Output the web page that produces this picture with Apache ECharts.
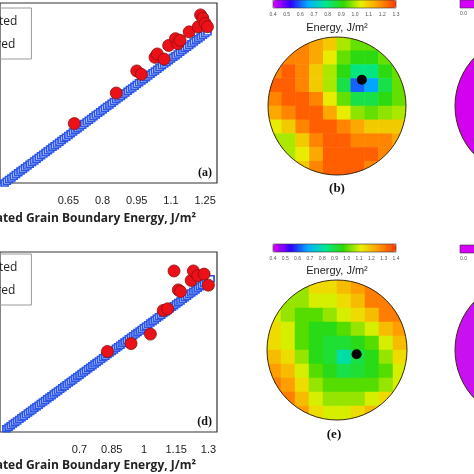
<!DOCTYPE html>
<html><head><meta charset="utf-8">
<script src="https://cdn.jsdelivr.net/npm/echarts@6/dist/echarts.min.js"></script>
<style>html,body{margin:0;background:#fff}#c{width:474px;height:474px}</style></head>
<body><div id="c"></div>
<script>
// ---- data ----
const simA = [[0.35,0.35],[0.36,0.36],[0.37,0.37],[0.38,0.38],[0.39,0.39],[0.40,0.40],[0.41,0.41],[0.42,0.42],[0.43,0.43],[0.44,0.44],[0.45,0.45],[0.46,0.46],[0.47,0.47],[0.48,0.48],[0.49,0.49],[0.50,0.50],[0.51,0.51],[0.52,0.52],[0.53,0.53],[0.54,0.54],[0.55,0.55],[0.56,0.56],[0.57,0.57],[0.58,0.58],[0.59,0.59],[0.60,0.60],[0.61,0.61],[0.62,0.62],[0.63,0.63],[0.64,0.64],[0.65,0.65],[0.66,0.66],[0.67,0.67],[0.68,0.68],[0.69,0.69],[0.70,0.70],[0.71,0.71],[0.72,0.72],[0.73,0.73],[0.74,0.74],[0.75,0.75],[0.76,0.76],[0.77,0.77],[0.78,0.78],[0.79,0.79],[0.80,0.80],[0.81,0.81],[0.82,0.82],[0.83,0.83],[0.84,0.84],[0.85,0.85],[0.86,0.86],[0.87,0.87],[0.88,0.88],[0.89,0.89],[0.90,0.90],[0.91,0.91],[0.92,0.92],[0.93,0.93],[0.94,0.94],[0.95,0.95],[0.96,0.96],[0.97,0.97],[0.98,0.98],[0.99,0.99],[1.00,1.00],[1.01,1.01],[1.02,1.02],[1.03,1.03],[1.04,1.04],[1.05,1.05],[1.06,1.06],[1.07,1.07],[1.08,1.08],[1.09,1.09],[1.10,1.10],[1.11,1.11],[1.12,1.12],[1.13,1.13],[1.14,1.14],[1.15,1.15],[1.16,1.16],[1.17,1.17],[1.18,1.18],[1.19,1.19],[1.20,1.20],[1.21,1.21],[1.22,1.22],[1.23,1.23],[1.24,1.24],[1.25,1.25],[1.26,1.26]];
const measA = [[0.676,0.72],[0.86,0.90],[0.95,1.03],[0.97,1.01],[1.03,1.11],[1.04,1.13],[1.07,1.10],[1.09,1.18],[1.12,1.22],[1.13,1.19],[1.14,1.21],[1.18,1.26],[1.22,1.29],[1.23,1.36],[1.24,1.34],[1.25,1.31],[1.26,1.29]];
const simD = [[0.36,0.36],[0.37,0.37],[0.38,0.38],[0.39,0.39],[0.40,0.40],[0.41,0.41],[0.42,0.42],[0.43,0.43],[0.44,0.44],[0.45,0.45],[0.46,0.46],[0.47,0.47],[0.48,0.48],[0.49,0.49],[0.50,0.50],[0.51,0.51],[0.52,0.52],[0.53,0.53],[0.54,0.54],[0.55,0.55],[0.56,0.56],[0.57,0.57],[0.58,0.58],[0.59,0.59],[0.60,0.60],[0.61,0.61],[0.62,0.62],[0.63,0.63],[0.64,0.64],[0.65,0.65],[0.66,0.66],[0.67,0.67],[0.68,0.68],[0.69,0.69],[0.70,0.70],[0.71,0.71],[0.72,0.72],[0.73,0.73],[0.74,0.74],[0.75,0.75],[0.76,0.76],[0.77,0.77],[0.78,0.78],[0.79,0.79],[0.80,0.80],[0.81,0.81],[0.82,0.82],[0.83,0.83],[0.84,0.84],[0.85,0.85],[0.86,0.86],[0.87,0.87],[0.88,0.88],[0.89,0.89],[0.90,0.90],[0.91,0.91],[0.92,0.92],[0.93,0.93],[0.94,0.94],[0.95,0.95],[0.96,0.96],[0.97,0.97],[0.98,0.98],[0.99,0.99],[1.00,1.00],[1.01,1.01],[1.02,1.02],[1.03,1.03],[1.04,1.04],[1.05,1.05],[1.06,1.06],[1.07,1.07],[1.08,1.08],[1.09,1.09],[1.10,1.10],[1.11,1.11],[1.12,1.12],[1.13,1.13],[1.14,1.14],[1.15,1.15],[1.16,1.16],[1.17,1.17],[1.18,1.18],[1.19,1.19],[1.20,1.20],[1.21,1.21],[1.22,1.22],[1.23,1.23],[1.24,1.24],[1.25,1.25],[1.26,1.26],[1.27,1.27],[1.28,1.28],[1.29,1.29],[1.30,1.30],[1.31,1.31]];
const measD = [[0.83,0.85],[0.94,0.90],[1.03,0.96],[1.09,1.11],[1.11,1.12],[1.14,1.36],[1.16,1.24],[1.17,1.23],[1.22,1.30],[1.23,1.36],[1.25,1.33],[1.28,1.34],[1.30,1.27]];
const _ = null;
const mapB = [
[_,_,1.2,1.15,1.1,1.0,0.95,0.95,_,_],
[_,1.2,1.2,1.15,1.05,0.95,0.9,0.9,0.95,_],
[1.2,1.25,1.2,1.1,1.0,0.9,0.8,0.8,0.9,0.95],
[1.25,1.25,1.2,1.1,1.0,0.85,0.6,0.65,0.85,0.95],
[1.2,1.25,1.25,1.2,1.05,0.95,0.85,0.85,0.9,0.95],
[1.15,1.2,1.25,1.25,1.15,1.05,0.98,0.95,0.98,1.0],
[1.05,1.1,1.2,1.25,1.25,1.2,1.15,1.1,1.1,1.1],
[1.0,1.0,1.1,1.2,1.25,1.25,1.2,1.2,1.2,1.15],
[_,1.0,1.05,1.15,1.25,1.25,1.25,1.25,1.2,_],
[_,_,1.1,1.2,1.25,1.25,1.25,1.2,_,_]];
const mapE = [
[_,_,1.05,1.15,1.15,1.2,1.25,1.3,_,_],
[_,1.05,1.05,1.1,1.1,1.15,1.2,1.3,1.3,_],
[1.1,1.05,1.0,1.0,1.05,1.1,1.15,1.2,1.3,1.3],
[1.15,1.1,1.0,0.95,0.95,1.0,1.05,1.1,1.2,1.25],
[1.15,1.1,1.0,0.95,0.92,0.92,0.95,1.0,1.1,1.2],
[1.2,1.15,1.05,0.95,0.92,0.8,0.9,0.95,1.05,1.15],
[1.25,1.2,1.1,1.0,0.95,0.9,0.92,0.95,1.0,1.1],
[1.3,1.25,1.15,1.05,1.0,1.0,1.0,1.0,1.05,1.1],
[_,1.3,1.2,1.1,1.05,1.05,1.05,1.1,1.15,_],
[_,_,1.25,1.15,1.1,1.1,1.15,1.2,_,_]];
const spotB = [[6.8,6.9]];
const spotE = [[6.4,4.7]];
const ticksA = [0.65,0.8,0.95,1.1,1.25];
const ticksD = [0.7,0.85,1,1.15,1.3];
const legendNames = ['Calculated','Measured'];
const rainbow = ['#e000ff','#3000ff','#00b0ff','#00e890','#30d800','#e8f000','#ff9a00','#ff3a00'];

const chart = echarts.init(document.getElementById('c'));
function cells(m){const out=[];m.forEach((row,r)=>row.forEach((v,c)=>{if(v!==null)out.push([c,9-r,v]);}));return out;}
const idx=[0,1,2,3,4,5,6,7,8,9];
const scatterGrid = (top)=>({left:-81,width:298,top:top,height:180,show:true,borderColor:'#333',borderWidth:1.2});
const grids=[scatterGrid(3),scatterGrid(252),
 {left:268,top:37,width:138,height:138},{left:267,top:280,width:140,height:140},
 {left:268,top:37,width:138,height:138},{left:267,top:280,width:140,height:140},
 {left:273,top:9,width:123,height:1},{left:273,top:253,width:123,height:1}];
function xv(min,max,ticks){return {type:'value',min:min,max:max,axisLine:{show:false},splitLine:{show:false},axisTick:{show:false},
 axisLabel:{fontSize:11,color:'#222',margin:12,customValues:ticks,formatter:v=>String(+v.toFixed(2))}};}
const hid={show:false};
const leg=(top)=>({left:-77,top:top,orient:'vertical',itemGap:7,itemWidth:22,textStyle:{fontSize:12,color:'#222',fontFamily:'Open Sans'},borderColor:'#999',borderWidth:1,padding:[6,14,6,8],data:legendNames});
const option={animation:false,grid:grids,
 xAxis:[
  Object.assign(xv(0.35,1.302,ticksA),{gridIndex:0}),
  Object.assign(xv(0.33,1.34,ticksD),{gridIndex:1}),
  {type:'category',data:idx,gridIndex:2,show:false},{type:'category',data:idx,gridIndex:3,show:false},
  {type:'value',min:0,max:10,gridIndex:4,show:false},{type:'value',min:0,max:10,gridIndex:5,show:false},
  {type:'value',min:0.4,max:1.3,interval:0.1,gridIndex:6,axisLine:hid,axisTick:hid,splitLine:hid,axisLabel:{fontSize:5,color:'#555',margin:2,formatter:v=>v.toFixed(1)}},
  {type:'value',min:0.4,max:1.4,interval:0.1,gridIndex:7,axisLine:hid,axisTick:hid,splitLine:hid,axisLabel:{fontSize:5,color:'#555',margin:2,formatter:v=>v.toFixed(1)}}],
 yAxis:[
  {type:'value',min:0.37,max:1.43,gridIndex:0,show:false},
  {type:'value',min:0.34,max:1.48,gridIndex:1,show:false},
  {type:'category',data:idx,gridIndex:2,show:false},{type:'category',data:idx,gridIndex:3,show:false},
  {type:'value',min:0,max:10,gridIndex:4,show:false},{type:'value',min:0,max:10,gridIndex:5,show:false},
  {type:'value',gridIndex:6,show:false},{type:'value',gridIndex:7,show:false}],
 legend:[leg(8),leg(254)],
 visualMap:[
  {type:'continuous',seriesIndex:4,min:0.4,max:1.3,orient:'horizontal',left:273,top:0,itemWidth:8,itemHeight:123,showLabel:false,text:null,calculable:false,inRange:{color:rainbow},padding:0},
  {type:'continuous',seriesIndex:5,min:0.4,max:1.4,orient:'horizontal',left:273,top:244,itemWidth:8,itemHeight:123,showLabel:false,text:null,calculable:false,inRange:{color:rainbow},padding:0}],
 series:[
  {name:'Measured',type:'scatter',xAxisIndex:0,yAxisIndex:0,symbol:'rect',symbolSize:[7,6],data:simA,itemStyle:{color:'#fff',borderColor:'#2a55e8',borderWidth:1.6,opacity:1}},
  {name:'Calculated',type:'scatter',xAxisIndex:0,yAxisIndex:0,symbolSize:12,data:measA,z:3,itemStyle:{color:'#ec1018',borderColor:'#8a0f0f',borderWidth:0.8,opacity:1}},
  {name:'Measured',type:'scatter',xAxisIndex:1,yAxisIndex:1,symbol:'rect',symbolSize:[7,6],data:simD,itemStyle:{color:'#fff',borderColor:'#2a55e8',borderWidth:1.6,opacity:1}},
  {name:'Calculated',type:'scatter',xAxisIndex:1,yAxisIndex:1,symbolSize:12,data:measD,z:3,itemStyle:{color:'#ec1018',borderColor:'#8a0f0f',borderWidth:0.8,opacity:1}},
  {type:'heatmap',xAxisIndex:2,yAxisIndex:2,data:cells(mapB)},
  {type:'heatmap',xAxisIndex:3,yAxisIndex:3,data:cells(mapE)},
  {type:'scatter',xAxisIndex:4,yAxisIndex:4,data:spotB,symbolSize:10,itemStyle:{color:'#000',opacity:1},z:5},
  {type:'scatter',xAxisIndex:5,yAxisIndex:5,data:spotE,symbolSize:10,itemStyle:{color:'#000',opacity:1},z:5}],
 graphic:[
  {type:'circle',shape:{cx:337,cy:106,r:77},style:{fill:null,stroke:'#fff',lineWidth:16},z:10},
  {type:'circle',shape:{cx:337,cy:106,r:69},style:{fill:null,stroke:'#3a2a10',lineWidth:1},z:11},
  {type:'circle',shape:{cx:337,cy:350,r:78},style:{fill:null,stroke:'#fff',lineWidth:16},z:10},
  {type:'circle',shape:{cx:337,cy:350,r:70},style:{fill:null,stroke:'#3a2a10',lineWidth:1},z:11},
  {type:'rect',shape:{x:273,y:0,width:123,height:8},style:{fill:null,stroke:'#333',lineWidth:0.6},z:12},
  {type:'rect',shape:{x:273,y:244,width:123,height:8},style:{fill:null,stroke:'#333',lineWidth:0.6},z:12},
  {type:'text',x:337,y:22,style:{text:'Energy, J/m²',font:'11px Liberation Sans',fill:'#222',textAlign:'center'},z:12},
  {type:'text',x:337,y:265,style:{text:'Energy, J/m²',font:'11px Liberation Sans',fill:'#222',textAlign:'center'},z:12},
  {type:'text',x:337,y:182,style:{text:'(b)',font:'bold 13px Liberation Serif',fill:'#111',textAlign:'center'},z:12},
  {type:'text',x:334,y:428,style:{text:'(e)',font:'bold 13px Liberation Serif',fill:'#111',textAlign:'center'},z:12},
  {type:'text',x:212,y:167,style:{text:'(a)',font:'bold 12px Liberation Serif',fill:'#111',textAlign:'right'},z:12},
  {type:'text',x:212,y:416,style:{text:'(d)',font:'bold 12px Liberation Serif',fill:'#111',textAlign:'right'},z:12},
  {type:'text',x:196,y:213,style:{text:'Calculated Grain Boundary Energy, J/m²',font:'bold 12px Open Sans',fill:'#222',textAlign:'right'},z:12},
  {type:'text',x:196,y:460,style:{text:'Calculated Grain Boundary Energy, J/m²',font:'bold 12px Open Sans',fill:'#222',textAlign:'right'},z:12},
  {type:'rect',shape:{x:460,y:0,width:20,height:8},style:{fill:'#d400f8',stroke:'#333',lineWidth:0.6},z:12},
  {type:'rect',shape:{x:460,y:245,width:20,height:8},style:{fill:'#d400f8',stroke:'#333',lineWidth:0.6},z:12},
  {type:'text',x:460,y:11,style:{text:'0.0',font:'5px Liberation Sans',fill:'#555'},z:12},
  {type:'text',x:460,y:256,style:{text:'0.0',font:'5px Liberation Sans',fill:'#555'},z:12},
  {type:'circle',shape:{cx:525,cy:106,r:70},style:{fill:'#d400f0',stroke:'#3a2a10',lineWidth:1},z:12},
  {type:'circle',shape:{cx:525,cy:350,r:70},style:{fill:'#c810f0',stroke:'#3a2a10',lineWidth:1},z:12}
 ]};
chart.setOption(option);
</script></body></html>
